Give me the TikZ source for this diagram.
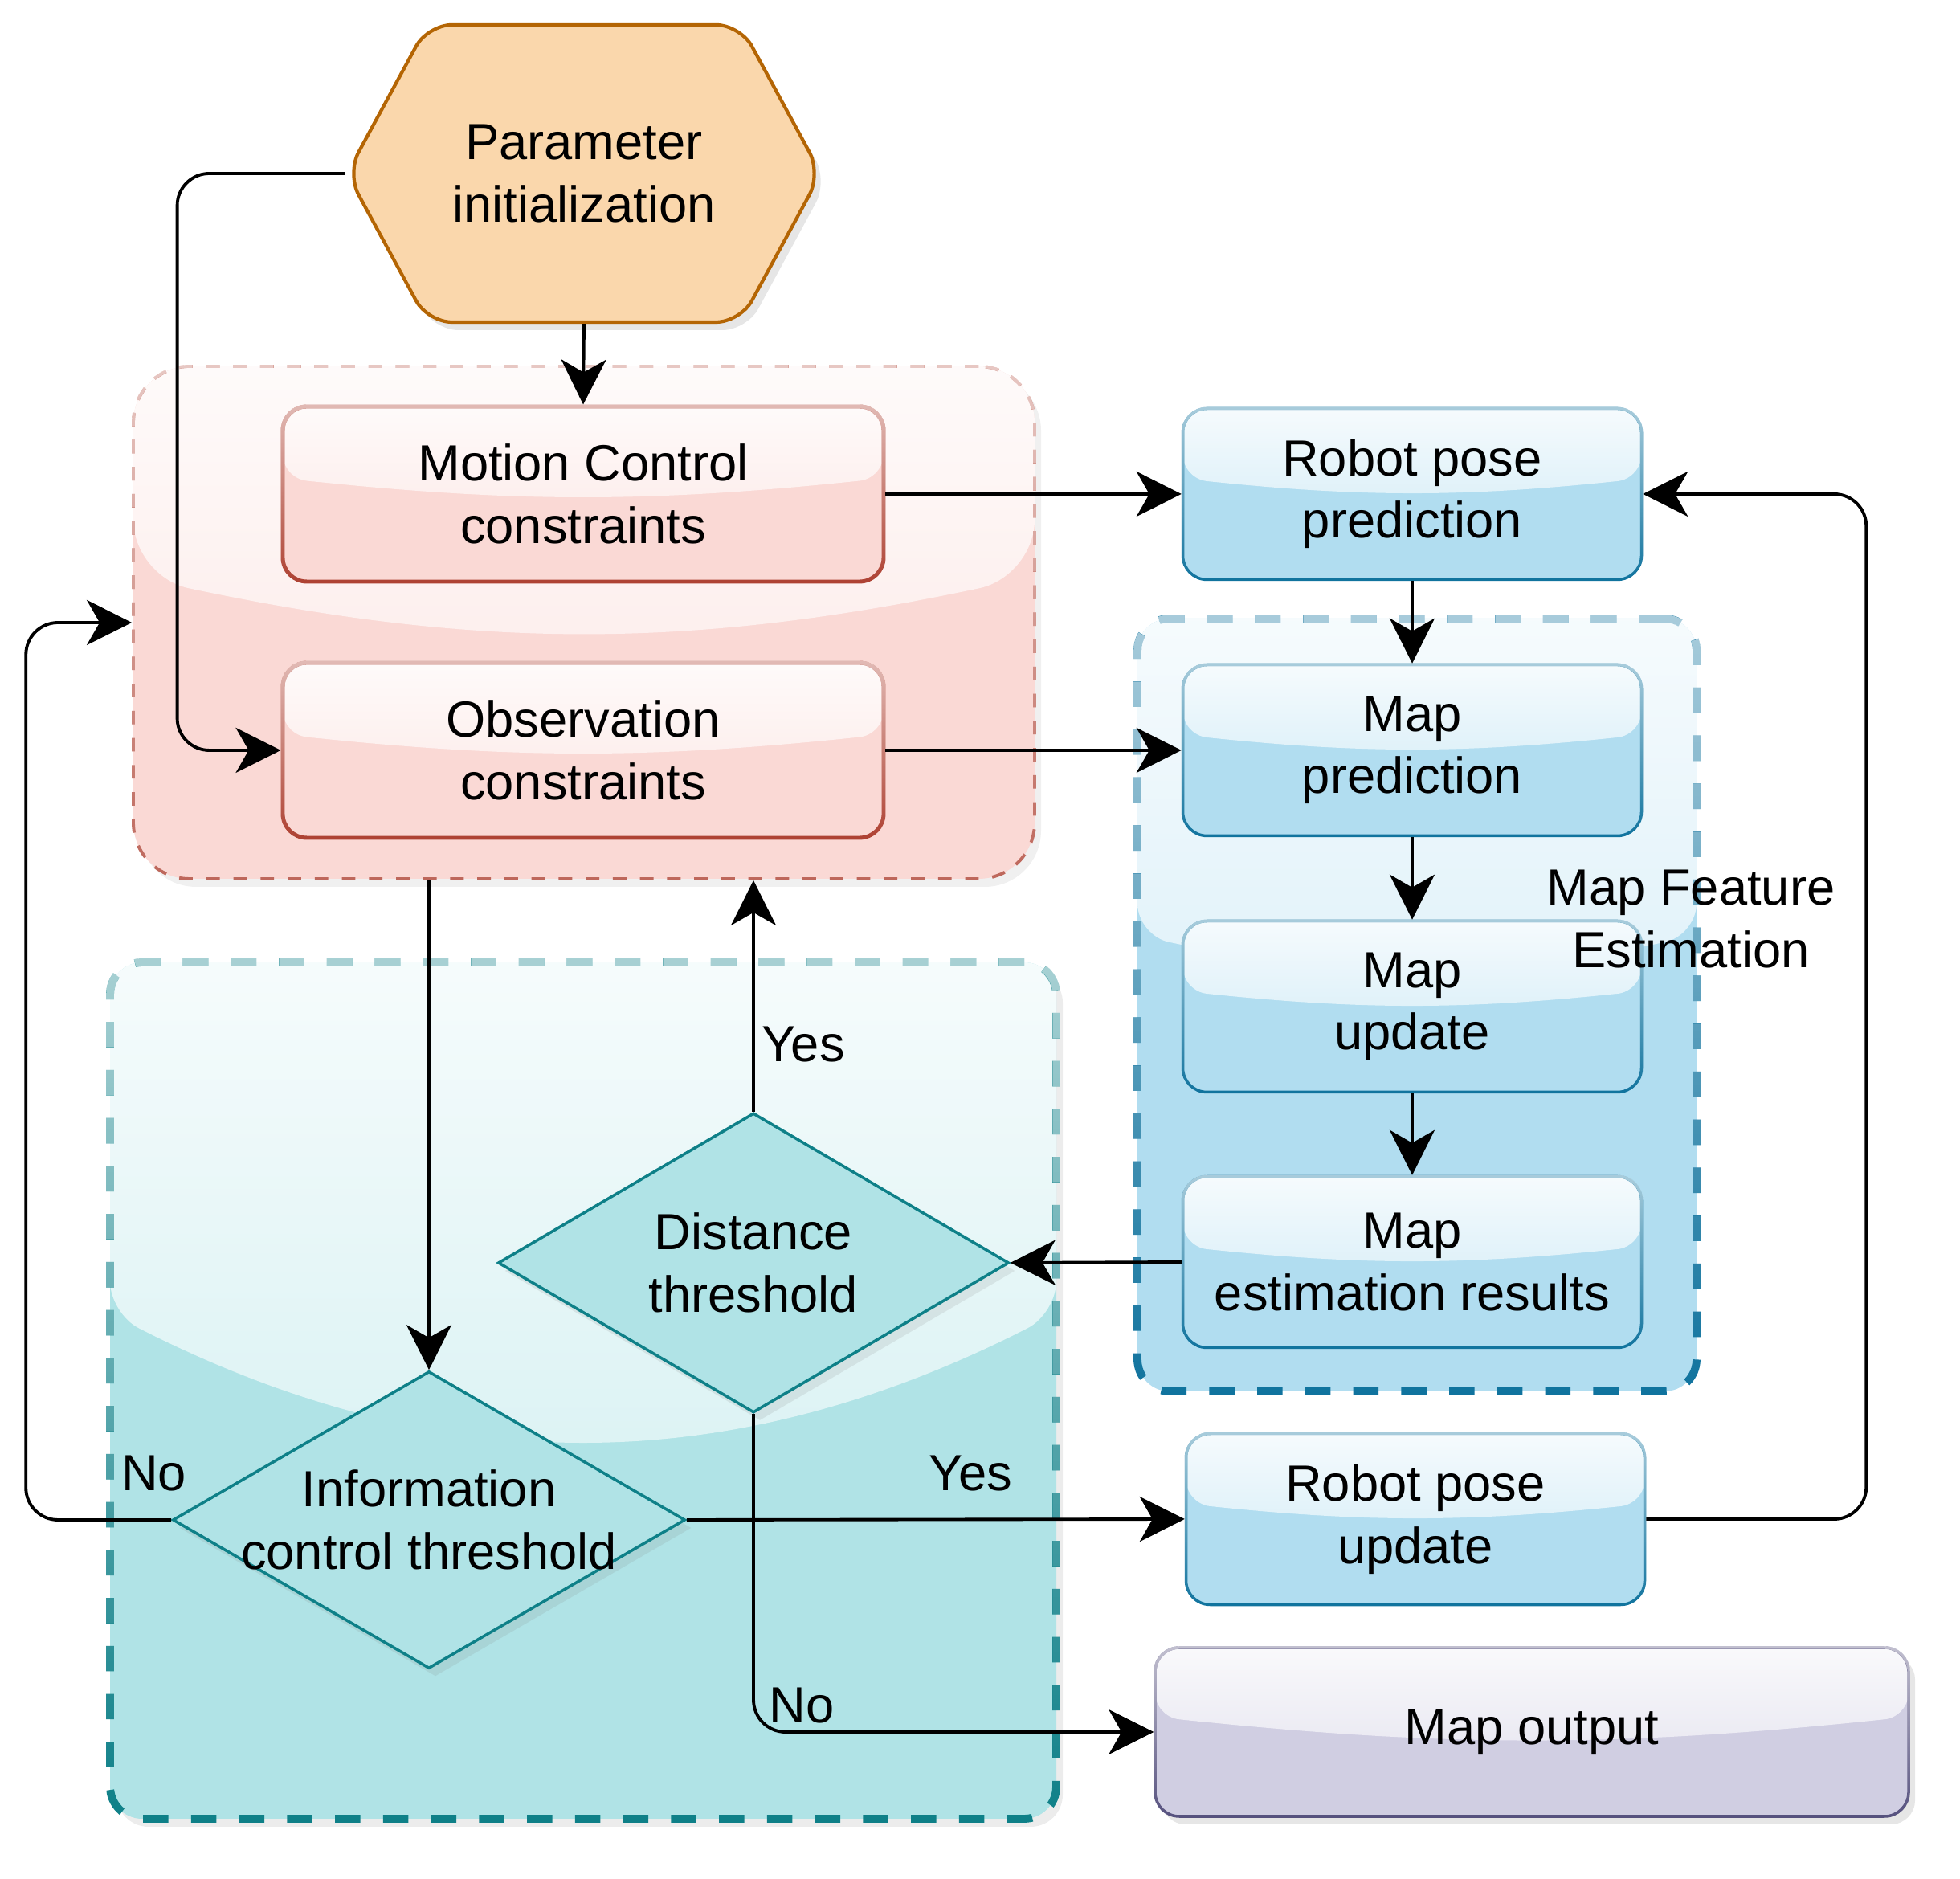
\documentclass[tikz,border=0pt]{standalone}
\usepackage{fontspec}
\setmainfont{Liberation Sans}
\usepackage{xcolor}
\usepackage{tikz}
\usetikzlibrary{shapes.geometric, shapes.symbols, arrows.meta, positioning, calc, shadows, fadings}
\definecolor{hexfill}{HTML}{FAD7AC}
\definecolor{hexline}{HTML}{B46504}
\definecolor{redfill}{HTML}{FAD9D5}
\definecolor{redline}{HTML}{AE4132}
\definecolor{bluefill}{HTML}{B1DDF0}
\definecolor{blueline}{HTML}{10739E}
\definecolor{tealfill}{HTML}{B0E3E6}
\definecolor{tealline}{HTML}{0E8088}
\definecolor{purpfill}{HTML}{D0CEE2}
\definecolor{purpline}{HTML}{56517E}

\newcommand{\flowfont}{\fontsize{18}{22}\selectfont}

\tikzfading[name=glassfade, top color=transparent!20, middle color=transparent!100, bottom color=transparent!100]

\tikzset{
    glass/.style 2 args={path picture={
        \shade[top color=#1!12!white, bottom color=#1!68!white]
            (path picture bounding box.north west) -- (path picture bounding box.north east)
            -- ($(path picture bounding box.north east)!0.41!(path picture bounding box.south east)$)
            to[bend left=#2] ($(path picture bounding box.north west)!0.41!(path picture bounding box.south west)$)
            -- cycle;
    }, postaction={draw=white, draw opacity=0.8, path fading=glassfade}}
}

\begin{document}
\begin{tikzpicture}[
    hexnode/.style={signal, signal to=west and east, signal pointer angle=123, draw=hexline, fill=hexfill, line width=1.2pt, rounded corners=3mm, minimum width=5.9cm, minimum height=3.7cm, font=\flowfont, align=center, drop shadow={opacity=0.2, shadow xshift=0.8mm, shadow yshift=-1mm}},
    procbox/.style={rectangle, rounded corners=3mm, draw=#1line, fill=#1fill, glass={#1fill}{6}, font=\flowfont, align=center},
    redbox/.style={procbox=red, line width=1.4pt, minimum width=7.48cm, minimum height=2.18cm},
    bluebox/.style={procbox=blue, line width=1pt, minimum width=5.71cm, minimum height=2.13cm},
    decision/.style={diamond, draw=tealline, fill=tealfill, line width=1pt, inner sep=0pt, drop shadow={opacity=0.15, shadow xshift=0.8mm, shadow yshift=-1mm}},
    group/.style={rectangle, rounded corners=4mm, fill=#1fill, dash pattern=on 9pt off 8pt, line width=2.8pt, draw=#1line},
    flow/.style={-{Stealth[length=5.6mm, width=5.6mm, inset=1.6mm]}, line width=1.1pt, rounded corners=4mm},
    lbl/.style={font=\flowfont, inner sep=1pt}
]
\useasboundingbox (0,0) rectangle (24.4,23.39);

% groups
\node[group=red, draw=redline!80, line width=1.1pt, dash pattern=on 4.8pt off 4.8pt, rounded corners=7mm, glass={redfill}{12}, minimum width=11.22cm, minimum height=6.38cm, drop shadow={opacity=0.12, shadow xshift=0.8mm, shadow yshift=-1mm}] (ctrlgrp) at (7.27,15.64) {};
\node[group=blue, glass={bluefill}{12}, minimum width=6.96cm, minimum height=9.62cm] (estgrp) at (17.64,10.88) {};
\node[group=teal, glass={tealfill}{27}, minimum width=11.78cm, minimum height=10.66cm, drop shadow={opacity=0.15, shadow xshift=0.8mm, shadow yshift=-1mm}] (decgrp) at (7.26,6.08) {};

% steps
\node[hexnode] (param) at (7.27,21.23) {Parameter\\initialization};
\node[redbox] (motion) at (7.26,17.24) {Motion Control\\constraints};
\node[redbox] (obs) at (7.26,14.05) {Observation\\constraints};

\node[bluebox] (rpp) at (17.58,17.24) {Robot pose\\prediction};
\node[bluebox] (mapp) at (17.58,14.05) {Map\\prediction};
\node[bluebox] (mapu) at (17.58,10.86) {Map\\update};
\node[bluebox] (mapr) at (17.58,7.68) {Map\\estimation results};
\node[lbl, align=center] (estlbl) at (21.05,11.95) {Map Feature\\Estimation};

\node[decision, minimum width=6.36cm, minimum height=3.73cm, label={[lbl, align=center]center:Distance\\threshold}] (dist) at (9.38,7.67) {};
\node[decision, minimum width=6.38cm, minimum height=3.70cm, label={[lbl, align=center]center:Information\\control threshold}] (info) at (5.34,4.47) {};

\node[bluebox] (rpu) at (17.62,4.48) {Robot pose\\update};
\node[procbox=purp, line width=1pt, minimum width=9.38cm, minimum height=2.10cm, drop shadow={opacity=0.2, shadow xshift=0.8mm, shadow yshift=-1mm}] (mapout) at (19.07,1.83) {Map output};

% connectors
\draw[flow] (param.south) -- (motion.north);
\draw[flow] (param.west) -- ++(-2.09,0) |- (obs.west);
\draw[flow] (motion.east) -- (rpp.west);
\draw[flow] (obs.east) -- (mapp.west);
\draw[flow] (rpp.south) -- (mapp.north);
\draw[flow] (mapp.south) -- (mapu.north);
\draw[flow] (mapu.south) -- (mapr.north);
\draw[flow] (mapr.west) -- (dist.east);
\draw[flow] (dist.north) -- node[lbl, pos=0.29, anchor=west, xshift=0.5mm] {Yes} (dist.north |- ctrlgrp.south);
\draw[flow] (dist.south) |- node[lbl, pos=0.5, anchor=south west, xshift=1.4mm, yshift=0.5mm] {No} (mapout.west);
\draw[flow] (info.north |- ctrlgrp.south) -- (info.north);
\draw[flow] (info.west) -- node[lbl, pos=0.12, anchor=south, yshift=3mm] {No} ++(-1.81,0) |- (ctrlgrp.west);
\draw[flow] (info.east) -- node[lbl, pos=0.57, anchor=south, yshift=3mm] {Yes} (rpu.west);
\draw[flow] (rpu.east) -- ++(2.74,0) |- (rpp.east);

\end{tikzpicture}
\end{document}
